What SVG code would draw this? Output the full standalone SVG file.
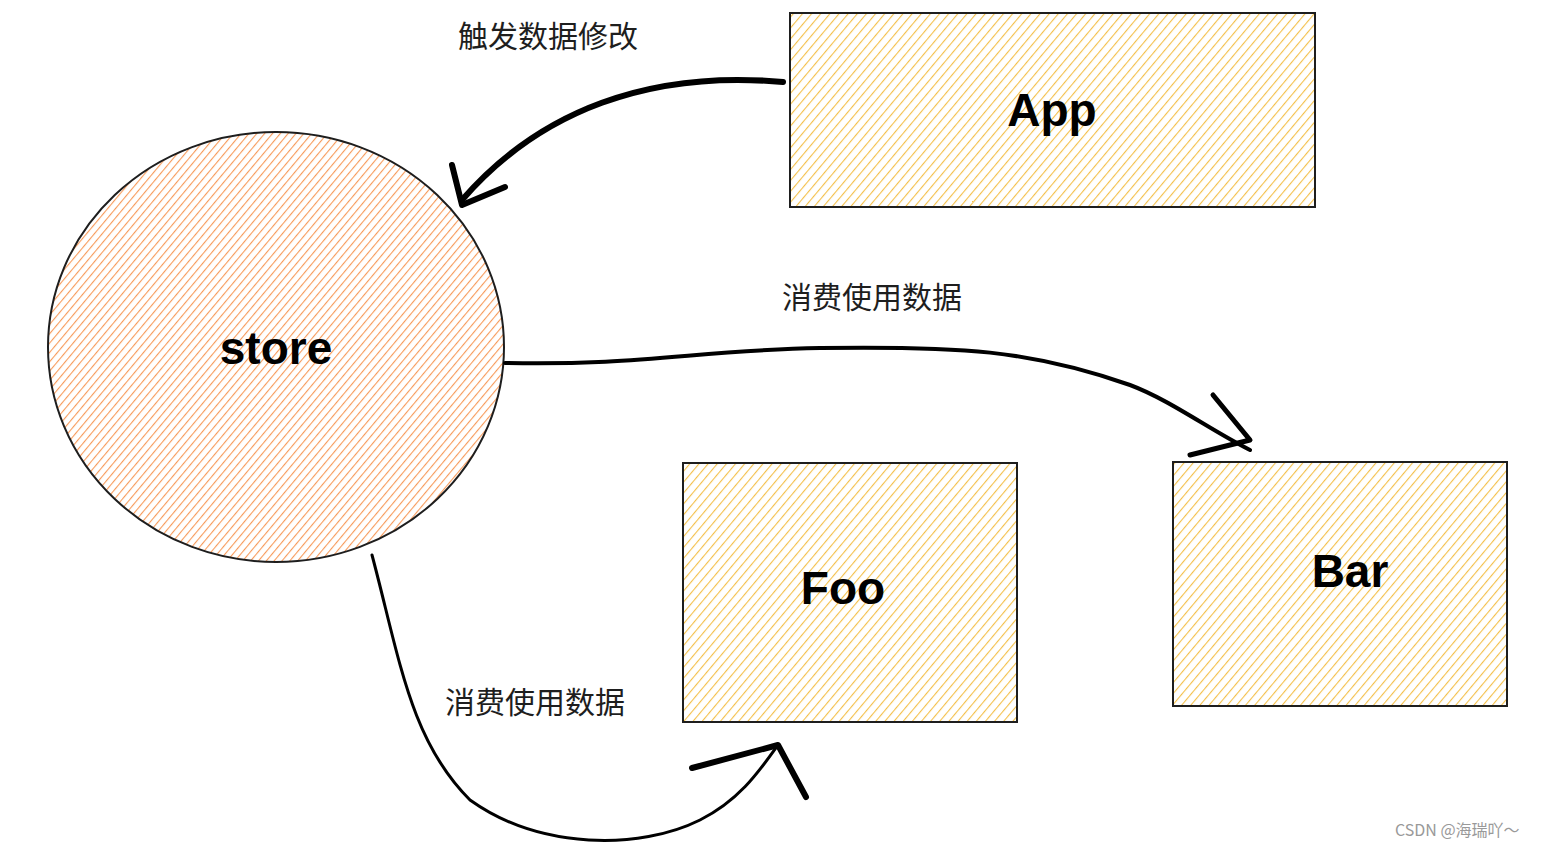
<svg xmlns="http://www.w3.org/2000/svg" width="1544" height="848" viewBox="0 0 1544 848">
<defs>
<pattern id="hy" width="7" height="7" patternUnits="userSpaceOnUse" patternTransform="rotate(40)"><rect width="7" height="7" fill="#fff"/><line x1="0" y1="0" x2="0" y2="7" stroke="#f4c04a" stroke-width="2.2"/></pattern>
<pattern id="ho" width="6" height="6" patternUnits="userSpaceOnUse" patternTransform="rotate(40)"><rect width="6" height="6" fill="#fff"/><line x1="0" y1="0" x2="0" y2="6" stroke="#f79a5a" stroke-width="2.2"/></pattern>
<style>
.n{stroke:#1e1e1e;stroke-width:2}
.c{fill:none;stroke:#000;stroke-width:5;stroke-linecap:round;stroke-linejoin:round}
.t{font-family:"Noto Sans CJK SC","Noto Sans",sans-serif;font-size:30px;fill:#1e1e1e}
.l{font-family:"Liberation Sans",sans-serif;font-weight:bold;font-size:46px;fill:#000;text-anchor:middle}
</style>
</defs>
<rect width="1544" height="848" fill="#fff"/>
<g id="store"><ellipse class="n" cx="276" cy="347" rx="228" ry="215" fill="url(#ho)"/><text class="l" x="276" y="364">store</text></g>
<g id="app"><rect class="n" x="790" y="13" width="525" height="194" fill="url(#hy)"/><text class="l" x="1052" y="126">App</text></g>
<g id="foo"><rect class="n" x="683" y="463" width="334" height="259" fill="url(#hy)"/><text class="l" x="843" y="604">Foo</text></g>
<g id="bar"><rect class="n" x="1173" y="462" width="334" height="244" fill="url(#hy)"/><text class="l" x="1350" y="587">Bar</text></g>
<g id="connectors">
<path class="c" d="M783 82 C650 70 540 110 462 200" style="stroke-width:6"/>
<path class="c" d="M452 165 L462 205 L505 187" style="stroke-width:6"/>
<path class="c" d="M505 363 C640 366 700 350 820 348 C960 346 1030 350 1130 385 C1170 400 1210 430 1250 450" style="stroke-width:4"/>
<path class="c" d="M1213 395 L1250 440 L1190 455" style="stroke-width:5"/>
<path class="c" d="M372 555 C400 660 410 740 470 800 C540 850 640 850 700 820 C740 800 760 770 778 745" style="stroke-width:3"/>
<path class="c" d="M692 768 L778 745 L806 797" style="stroke-width:6"/>
</g>
<text class="t" x="458" y="47">触发数据修改</text>
<text class="t" x="782" y="308">消费使用数据</text>
<text class="t" x="445" y="713">消费使用数据</text>
<text x="1395" y="836" style="font-family:'Noto Sans CJK SC',sans-serif;font-size:16px;fill:#999">CSDN @海瑞吖～</text>
</svg>
